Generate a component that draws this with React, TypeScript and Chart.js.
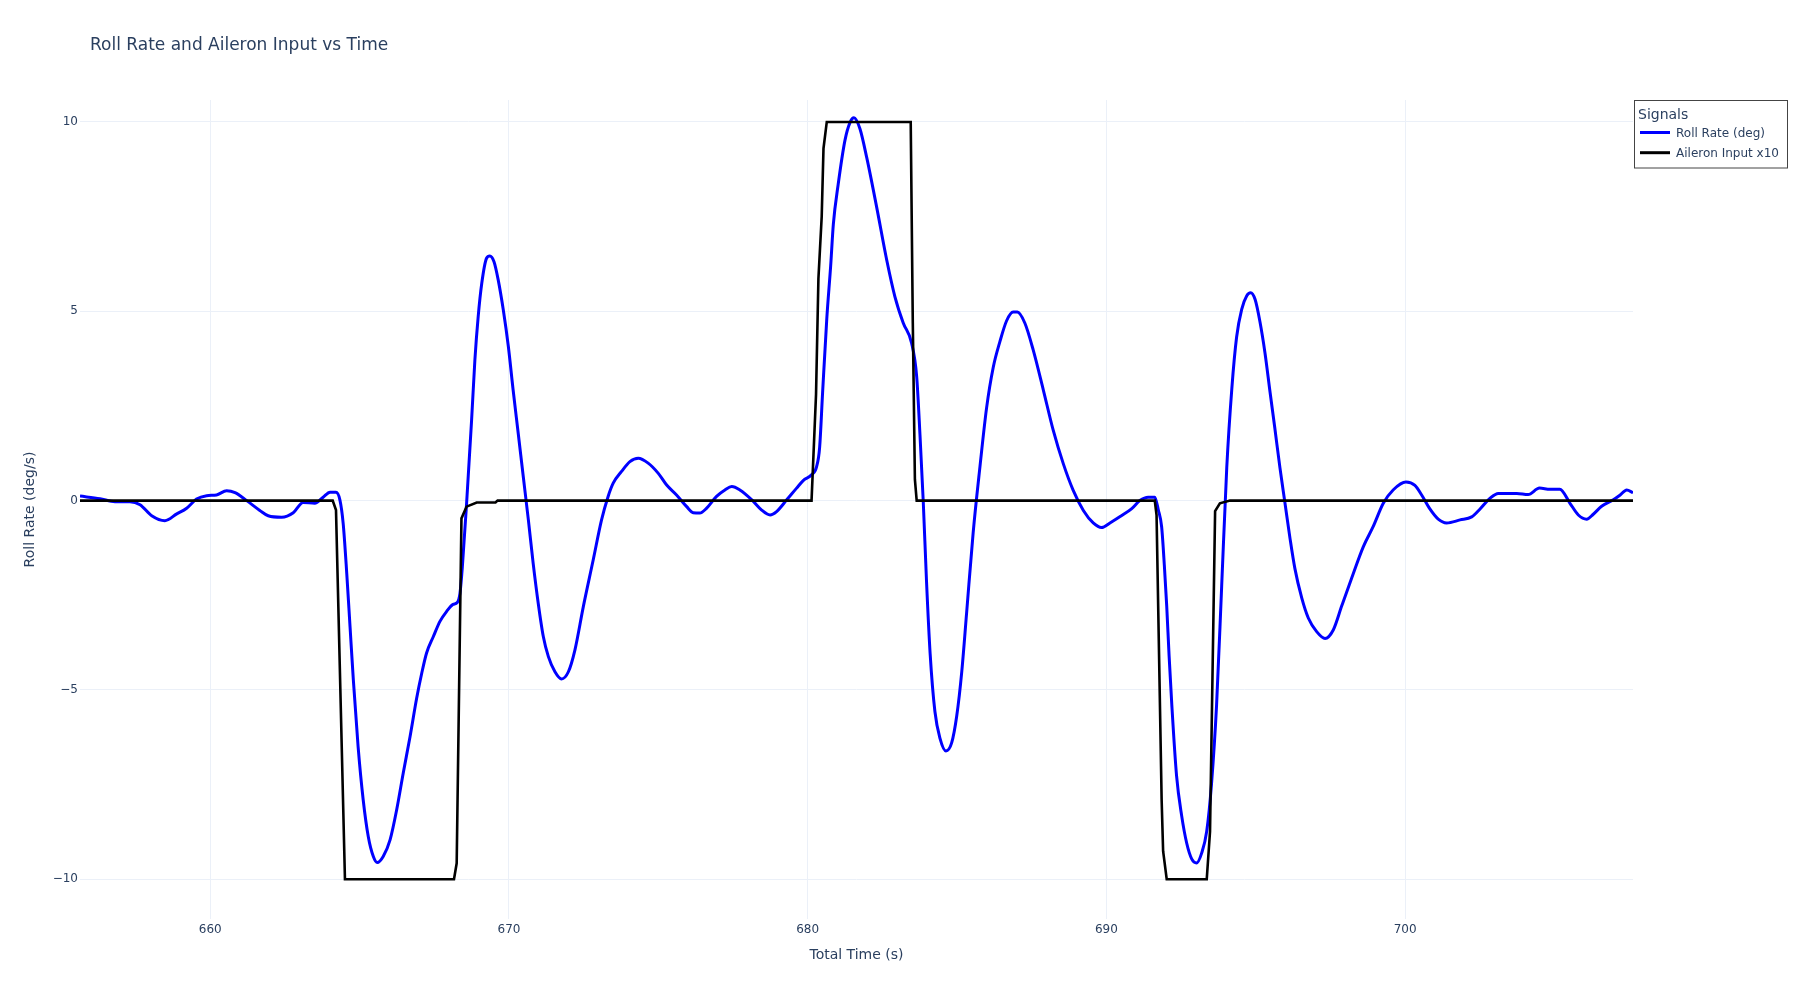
import React, { useEffect, useRef } from "react";
import { Chart, registerables } from "chart.js";

Chart.register(...registerables);

const TITLE = "Roll Rate and Aileron Input vs Time";
const X_TITLE = "Total Time (s)";
const Y_TITLE = "Roll Rate (deg/s)";
const LEGEND_TITLE = "Signals";
const SERIES_NAMES = ["Roll Rate (deg)", "Aileron Input x10"];
const SERIES_COLORS = ["#0000ff", "#000000"];

const rollTime = [
  655.64, 656.31, 656.81, 657.31, 657.65, 658.04, 658.48, 658.88, 659.21, 659.54,
  659.88, 660.21, 660.55, 660.83, 661.22, 661.66, 661.94, 662.39, 662.78, 663.11,
  663.5, 663.78, 664.01, 664.21, 664.34, 664.45, 664.57, 664.68, 664.79, 664.95,
  665.12, 665.29, 665.46, 665.59, 665.79, 666.02, 666.24, 666.46, 666.69, 666.91,
  667.08, 667.24, 667.47, 667.69, 667.91, 668.13, 668.27, 668.36, 668.44, 668.58,
  668.75, 668.86, 668.97, 669.09, 669.25, 669.36, 669.5, 669.64, 669.81, 669.98,
  670.14, 670.31, 670.48, 670.65, 670.81, 670.98, 671.15, 671.32, 671.54, 671.76,
  671.99, 672.21, 672.49, 672.82, 673.1, 673.32, 673.49, 673.77, 674.05, 674.33,
  674.66, 675.0, 675.28, 675.61, 675.95, 676.17, 676.39, 676.62, 676.95, 677.23,
  677.46, 677.73, 678.13, 678.46, 678.74, 678.96, 679.3, 679.63, 679.85, 680.13,
  680.3, 680.4, 680.5, 680.64, 680.77, 680.86, 681.02, 681.25, 681.42, 681.55,
  681.75, 681.98, 682.31, 682.65, 682.92, 683.2, 683.48, 683.65, 683.76, 683.87,
  683.98, 684.1, 684.26, 684.43, 684.63, 684.82, 684.99, 685.16, 685.32, 685.54,
  685.77, 685.99, 686.21, 686.44, 686.66, 686.88, 687.02, 687.27, 687.55, 687.89,
  688.22, 688.56, 688.89, 689.23, 689.56, 689.84, 690.12, 690.46, 690.85, 691.12,
  691.4, 691.62, 691.74, 691.85, 691.94, 692.02, 692.1, 692.19, 692.35, 692.52,
  692.69, 692.86, 693.02, 693.19, 693.36, 693.52, 693.69, 693.86, 694.03, 694.2,
  694.36, 694.53, 694.7, 694.83, 694.98, 695.14, 695.31, 695.48, 695.64, 695.81,
  695.98, 696.15, 696.31, 696.54, 696.76, 697.04, 697.32, 697.6, 697.88, 698.21,
  698.6, 698.93, 699.27, 699.6, 700.03, 700.33, 700.56, 700.83, 701.11, 701.39,
  701.84, 702.23, 702.51, 702.84, 703.12, 703.74, 704.12, 704.5, 704.85, 705.18,
  705.52, 705.8, 706.08, 706.3, 706.58, 706.97, 707.19, 707.42, 707.63,
];

const rollRate = [
  0.12, 0.05, -0.03, -0.03, -0.11, -0.4, -0.53, -0.35, -0.2, 0.04,
  0.13, 0.15, 0.26, 0.21, 0.0, -0.26, -0.4, -0.44, -0.32, -0.05,
  -0.07, 0.09, 0.22, 0.22, 0.02, -0.6, -1.92, -3.33, -4.73, -6.5,
  -7.9, -8.87, -9.4, -9.56, -9.4, -8.96, -8.17, -7.2, -6.23, -5.22,
  -4.56, -4.03, -3.59, -3.19, -2.93, -2.74, -2.69, -2.45, -1.75, -0.1,
  2.13, 3.72, 4.86, 5.74, 6.4, 6.46, 6.31, 5.83, 5.04, 4.07,
  2.92, 1.78, 0.63, -0.51, -1.65, -2.71, -3.59, -4.12, -4.52, -4.71,
  -4.52, -3.94, -2.8, -1.57, -0.51, 0.11, 0.46, 0.77, 1.03, 1.12,
  0.99, 0.72, 0.41, 0.15, -0.16, -0.32, -0.33, -0.2, 0.11, 0.28,
  0.37, 0.28, 0.02, -0.25, -0.38, -0.29, 0.02, 0.33, 0.53, 0.68,
  0.9, 1.4, 2.85, 4.8, 6.2, 7.3, 8.34, 9.52, 9.99, 10.11,
  9.82, 9.05, 7.75, 6.34, 5.39, 4.69, 4.16, 3.27, 1.74, -0.03,
  -2.15, -4.04, -5.57, -6.28, -6.61, -6.4, -5.69, -4.51, -2.98, -0.85,
  0.91, 2.45, 3.51, 4.21, 4.75, 4.98, 4.98, 4.69, 3.98, 2.92,
  1.86, 0.97, 0.27, -0.26, -0.59, -0.71, -0.59, -0.42, -0.21, 0.0,
  0.09, 0.09, -0.25, -0.69, -1.7, -2.78, -4.1, -5.39, -7.27, -8.32,
  -9.05, -9.47, -9.57, -9.31, -8.73, -7.48, -5.39, -2.26, 0.87, 2.96,
  4.32, 5.05, 5.41, 5.49, 5.31, 4.73, 3.9, 2.86, 1.91, 0.87,
  -0.07, -1.01, -1.79, -2.57, -3.1, -3.46, -3.64, -3.41, -2.78, -2.05,
  -1.22, -0.69, -0.07, 0.28, 0.49, 0.4, 0.14, -0.22, -0.49, -0.59,
  -0.51, -0.43, -0.22, 0.06, 0.19, 0.19, 0.16, 0.33, 0.3, 0.3,
  -0.07, -0.38, -0.49, -0.36, -0.15, 0.02, 0.14, 0.28, 0.21,
];

const aileronTime = [
  655.64, 664.1, 664.21, 664.51, 668.16, 668.25, 668.41, 668.58, 668.92, 669.55,
  669.62, 680.13, 680.28, 680.36, 680.47, 680.53, 680.64, 683.45, 683.52, 683.59,
  683.65, 691.62, 691.68, 691.85, 691.9, 692.02, 693.36, 693.47, 693.64, 693.8,
  694.14, 707.63,
];

const aileronInput = [
  0, 0, -0.25, -10, -10, -9.58, -0.47, -0.16, -0.05, -0.05,
  0, 0, 2.8, 5.86, 7.5, 9.3, 10, 10, 4.69, 0.56,
  0, 0, -0.38, -7.9, -9.26, -10, -10, -8.74, -0.28, -0.07,
  0, 0,
];

const X_MIN = 655.64;
const X_MAX = 707.63;
const Y_MIN = -11.05;
const Y_MAX = 10.58;
const X_STEP = 10;
const Y_STEP = 5;

const TEXT_COLOR = "#2a3f5f";
const GRID_COLOR = "#ebf0f8";
const FONT_FAMILY = '"DejaVu Sans", Verdana, sans-serif';

const fmt = (v: number) => (v < 0 ? "\u2212" + Math.abs(v) : String(v));

const overlayPlugin = {
  id: "overlay",
  afterDraw(chart: any) {
    const ctx = chart.ctx as CanvasRenderingContext2D;
    ctx.save();
    ctx.textAlign = "left";
    ctx.textBaseline = "alphabetic";
    ctx.fillStyle = TEXT_COLOR;
    ctx.font = `17px ${FONT_FAMILY}`;
    ctx.fillText(TITLE, 90, 50);

    // legend box
    const lx = 1634.5, ly = 100.5, lw = 153, lh = 67.5;
    ctx.fillStyle = "#ffffff";
    ctx.fillRect(lx, ly, lw, lh);
    ctx.strokeStyle = "#444444";
    ctx.lineWidth = 1;
    ctx.strokeRect(lx, ly, lw, lh);

    ctx.fillStyle = TEXT_COLOR;
    ctx.font = `14px ${FONT_FAMILY}`;
    ctx.fillText(LEGEND_TITLE, 1638, 119);

    const rowsY = [132.5, 152.7];
    const widths = [3, 3];
    SERIES_NAMES.forEach((name, i) => {
      const y = rowsY[i];
      ctx.strokeStyle = SERIES_COLORS[i];
      ctx.lineWidth = widths[i];
      ctx.beginPath();
      ctx.moveTo(1640, y);
      ctx.lineTo(1670, y);
      ctx.stroke();
      ctx.fillStyle = TEXT_COLOR;
      ctx.font = `12px ${FONT_FAMILY}`;
      ctx.fillText(name, 1676, y + 4.3);
    });
    ctx.restore();
  },
};

export default function App() {
  const canvasRef = useRef<HTMLCanvasElement | null>(null);

  useEffect(() => {
    if (!canvasRef.current) return;
    Chart.defaults.font.family = FONT_FAMILY;
    const rollData = rollTime.map((t, i) => ({ x: t, y: rollRate[i] }));
    const aileronData = aileronTime.map((t, i) => ({ x: t, y: aileronInput[i] }));

    const chart = new Chart(canvasRef.current, {
      type: "line",
      data: {
        datasets: [
          {
            label: SERIES_NAMES[0],
            data: rollData,
            borderColor: SERIES_COLORS[0],
            backgroundColor: SERIES_COLORS[0],
            borderWidth: 3,
            pointRadius: 0,
            cubicInterpolationMode: "monotone",
            fill: false,
            order: 1,
          },
          {
            label: SERIES_NAMES[1],
            data: aileronData,
            borderColor: SERIES_COLORS[1],
            backgroundColor: SERIES_COLORS[1],
            borderWidth: 2.6,
            pointRadius: 0,
            tension: 0,
            fill: false,
            order: 0,
          },
        ],
      },
      options: {
        responsive: false,
        animation: false,
        devicePixelRatio: 1,
        layout: { padding: { top: 100, right: 1800 - 1633, left: 0, bottom: 0 } },
        plugins: {
          legend: { display: false },
          title: { display: false },
          tooltip: { enabled: false },
        },
        scales: {
          x: {
            type: "linear",
            min: X_MIN,
            max: X_MAX,
            afterFit: (s: any) => {
              s.height = 1000 - 919;
            },
            border: { display: false },
            grid: { color: GRID_COLOR, drawTicks: false, lineWidth: 1 },
            ticks: {
              stepSize: X_STEP,
              includeBounds: false,
              padding: 4,
              color: TEXT_COLOR,
              font: { size: 12, family: FONT_FAMILY },
              maxRotation: 0,
              callback: (v: any) => fmt(Number(v)),
            },
            title: {
              display: true,
              text: X_TITLE,
              color: TEXT_COLOR,
              font: { size: 14, family: FONT_FAMILY },
              padding: { top: 0, bottom: 36 },
            },
          },
          y: {
            type: "linear",
            min: Y_MIN,
            max: Y_MAX,
            afterFit: (s: any) => {
              s.width = 80;
            },
            border: { display: false },
            grid: { color: GRID_COLOR, drawTicks: false, lineWidth: 1 },
            ticks: {
              stepSize: Y_STEP,
              includeBounds: false,
              padding: 2,
              color: TEXT_COLOR,
              font: { size: 12, family: FONT_FAMILY },
              callback: (v: any) => fmt(Number(v)),
            },
            title: {
              display: true,
              text: Y_TITLE,
              color: TEXT_COLOR,
              font: { size: 14, family: FONT_FAMILY },
              padding: { top: 21.6, bottom: 0 },
            },
          },
        },
      },
      plugins: [overlayPlugin],
    } as any);

    return () => chart.destroy();
  }, []);

  return (
    <div
      style={{
        position: "absolute",
        left: 0,
        top: 0,
        width: 1800,
        height: 1000,
        background: "#ffffff",
      }}
    >
      <canvas ref={canvasRef} width={1800} height={1000} style={{ display: "block" }} />
    </div>
  );
}
